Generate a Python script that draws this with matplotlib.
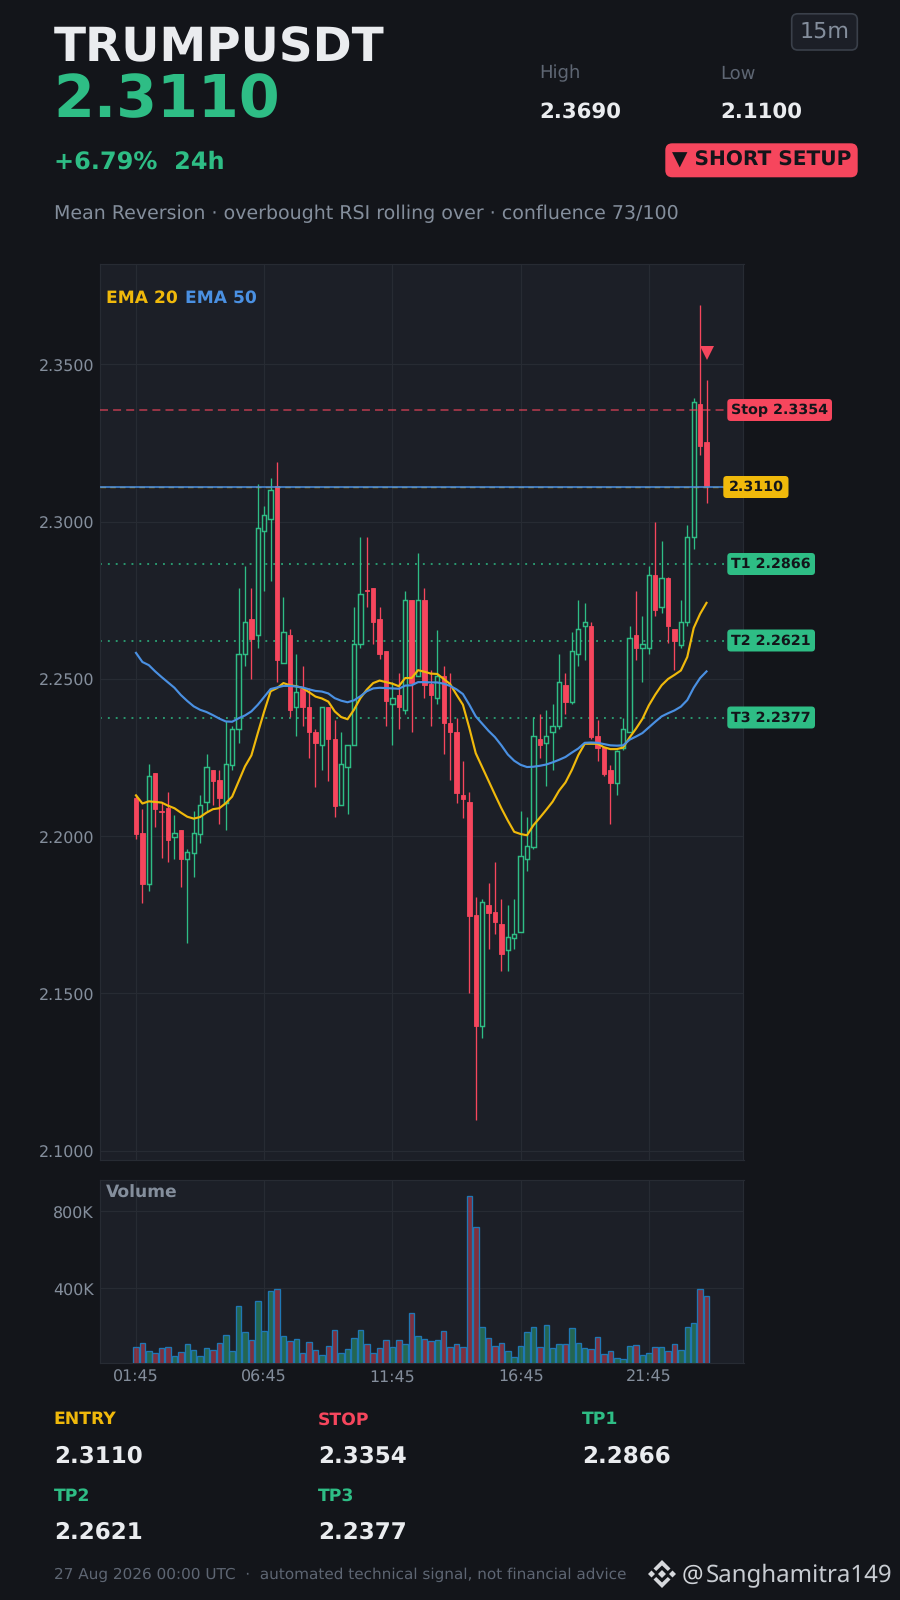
import matplotlib
matplotlib.use("Agg")
import matplotlib.pyplot as plt
from matplotlib.patches import FancyBboxPatch, Polygon
from matplotlib.transforms import ScaledTranslation

opens = [2.2121,2.2011,2.1849,2.2202,2.2081,2.2089,2.1999,2.2020,2.1929,2.1948,
         2.2008,2.2108,2.2210,2.2178,2.2107,2.2228,2.2341,2.2580,2.2691,2.2639,
         2.2970,2.3010,2.3113,2.2551,2.2640,2.2411,2.2468,2.2411,2.2331,2.2289,
         2.2411,2.2309,2.2098,2.2220,2.2289,2.2610,2.2783,2.2790,2.2691,2.2589,
         2.2420,2.2449,2.2400,2.2752,2.2510,2.2752,2.2485,2.2438,2.2510,2.2360,
         2.2331,2.2132,2.2108,2.1749,2.1397,2.1781,2.1758,2.1721,2.1639,2.1677,
         2.1696,2.1929,2.1967,2.2310,2.2298,2.2330,2.2349,2.2482,2.2428,2.2579,
         2.2668,2.2670,2.2318,2.2283,2.2211,2.2169,2.2280,2.2330,2.2640,2.2598,
         2.2598,2.2831,2.2728,2.2821,2.2660,2.2609,2.2680,2.2952,2.3373,2.3252]
closes = [2.2007,2.1848,2.2191,2.2087,2.2078,2.1988,2.2010,2.1928,2.1949,2.2010,
          2.2099,2.2220,2.2176,2.2120,2.2229,2.2341,2.2580,2.2682,2.2628,2.2981,
          2.3022,2.3102,2.2559,2.2650,2.2400,2.2459,2.2410,2.2330,2.2298,2.2411,
          2.2309,2.2097,2.2230,2.2290,2.2611,2.2771,2.2780,2.2680,2.2579,2.2429,
          2.2439,2.2410,2.2752,2.2487,2.2752,2.2480,2.2448,2.2508,2.2359,2.2330,
          2.2139,2.2119,2.1747,2.1397,2.1790,2.1757,2.1727,2.1625,2.1678,2.1688,
          2.1938,2.1968,2.2318,2.2289,2.2318,2.2350,2.2490,2.2428,2.2589,2.2659,
          2.2681,2.2317,2.2279,2.2198,2.2168,2.2271,2.2341,2.2630,2.2599,2.2611,
          2.2831,2.2719,2.2821,2.2668,2.2620,2.2681,2.2952,2.3382,2.3241,2.3114]
highs = [2.2131,2.2087,2.2229,2.2202,2.2105,2.2140,2.2069,2.2020,2.1959,2.2079,
         2.2130,2.2261,2.2210,2.2209,2.2365,2.2350,2.2788,2.2859,2.2788,2.3121,
         2.3050,2.3140,2.3190,2.2760,2.2659,2.2579,2.2540,2.2472,2.2341,2.2411,
         2.2411,2.2370,2.2330,2.2290,2.2728,2.2951,2.2951,2.2790,2.2729,2.2589,
         2.2489,2.2519,2.2779,2.2752,2.2901,2.2790,2.2527,2.2657,2.2540,2.2519,
         2.2376,2.2238,2.2140,2.1808,2.1800,2.1850,2.1919,2.1800,2.1780,2.1800,
         2.2079,2.2060,2.2378,2.2388,2.2400,2.2419,2.2578,2.2519,2.2648,2.2750,
         2.2742,2.2680,2.2368,2.2283,2.2228,2.2275,2.2377,2.2668,2.2779,2.2699,
         2.2859,2.3000,2.2938,2.2823,2.2660,2.2750,2.2989,2.3392,2.3690,2.3451]
lows = [2.1990,2.1789,2.1827,2.2028,2.1930,2.1919,2.1929,2.1837,2.1659,2.1869,
        2.1978,2.2079,2.2099,2.2038,2.2020,2.2209,2.2298,2.2542,2.2500,2.2599,
        2.2781,2.2813,2.2490,2.2551,2.2379,2.2320,2.2351,2.2248,2.2158,2.2211,
        2.2177,2.2061,2.2098,2.2070,2.2289,2.2599,2.2729,2.2612,2.2562,2.2349,
        2.2290,2.2341,2.2390,2.2332,2.2508,2.2440,2.2349,2.2421,2.2262,2.2179,
        2.2107,2.2059,2.1500,2.1099,2.1357,2.1640,2.1688,2.1570,2.1570,2.1640,
        2.1696,2.1889,2.1959,2.2248,2.2159,2.2209,2.2341,2.2388,2.2419,2.2542,
        2.2561,2.2309,2.2239,2.2190,2.2038,2.2132,2.2275,2.2330,2.2559,2.2490,
        2.2580,2.2699,2.2710,2.2613,2.2530,2.2599,2.2670,2.2912,2.3211,2.3061]
ema20 = [2.2130,2.2104,2.2111,2.2109,2.2107,2.2097,2.2089,2.2075,2.2062,2.2056,
         2.2061,2.2075,2.2086,2.2089,2.2105,2.2126,2.2174,2.2222,2.2257,2.2328,
         2.2397,2.2461,2.2471,2.2487,2.2480,2.2477,2.2471,2.2458,2.2444,2.2438,
         2.2428,2.2397,2.2379,2.2372,2.2402,2.2439,2.2466,2.2487,2.2495,2.2490,
         2.2485,2.2477,2.2503,2.2503,2.2528,2.2523,2.2517,2.2516,2.2500,2.2484,
         2.2450,2.2418,2.2344,2.2264,2.2220,2.2176,2.2132,2.2089,2.2050,2.2014,
         2.2007,2.2003,2.2035,2.2059,2.2084,2.2110,2.2145,2.2171,2.2211,2.2258,
         2.2294,2.2294,2.2294,2.2283,2.2277,2.2277,2.2282,2.2314,2.2342,2.2373,
         2.2416,2.2450,2.2480,2.2500,2.2513,2.2527,2.2570,2.2662,2.2707,2.2742]
ema50 = [2.2583,2.2554,2.2544,2.2524,2.2506,2.2489,2.2472,2.2449,2.2430,2.2413,
         2.2402,2.2395,2.2385,2.2374,2.2365,2.2364,2.2375,2.2384,2.2397,2.2418,
         2.2443,2.2468,2.2473,2.2478,2.2478,2.2476,2.2473,2.2467,2.2462,2.2460,
         2.2454,2.2439,2.2431,2.2426,2.2432,2.2445,2.2461,2.2470,2.2472,2.2471,
         2.2470,2.2469,2.2479,2.2480,2.2490,2.2490,2.2489,2.2489,2.2485,2.2478,
         2.2467,2.2452,2.2418,2.2381,2.2358,2.2335,2.2315,2.2289,2.2260,2.2240,
         2.2227,2.2220,2.2221,2.2224,2.2228,2.2235,2.2243,2.2252,2.2266,2.2279,
         2.2297,2.2298,2.2297,2.2293,2.2289,2.2288,2.2289,2.2307,2.2317,2.2328,
         2.2346,2.2364,2.2381,2.2391,2.2400,2.2412,2.2433,2.2472,2.2503,2.2524]
volumes = [93,118,73,66,88,93,47,67,109,78,47,88,78,114,156,73,306,171,130,332,
           176,384,395,151,125,135,62,119,78,52,99,182,62,83,140,182,109,62,88,130,
           93,130,109,270,151,135,125,130,176,93,109,93,878,717,197,140,99,114,73,41,
           99,171,197,93,208,88,109,109,192,114,88,83,145,57,73,36,31,99,104,52,
           62,93,93,73,109,78,197,218,395,358]
price_ticks = [2.10,2.15,2.20,2.25,2.30,2.35]
vol_ticks = [400, 800]
time_labels = ["01:45","06:45","11:45","16:45","21:45"]
time_idx = [0,20,40,60,80]
entry, stop, tp1, tp2, tp3 = 2.3110, 2.3354, 2.2866, 2.2621, 2.2377
signal_idx, signal_price = 89, 2.3538

BG = "#13151a"; PANEL = "#1c1f27"; GRID = "#272b33"
GREEN = "#2ebd85"; RED = "#f6465d"; YEL = "#f0b90b"; BLUE = "#4a90e2"
WHITE = "#eaecef"; GREY = "#848e9c"; DIM = "#5e6673"

plt.rcParams["font.family"] = ["DejaVu Sans"]
plt.rcParams["text.hinting"] = "no_hinting"
fig = plt.figure(figsize=(9, 16), dpi=100, facecolor=BG)
W, H = 900.0, 1600.0

def px_axes(l, t, r, b):
    return fig.add_axes([l/W, 1-b/H, (r-l)/W, (b-t)/H], facecolor=PANEL)

ax = px_axes(100.2, 264, 743.5, 1160)
av = px_axes(100.2, 1180, 743.5, 1363)
xs = list(range(len(opens)))
XL = (-5.585, 94.77)

for a in (ax, av):
    a.set_xlim(*XL)
    a.set_xticks(time_idx)
    a.grid(True, color=GRID, lw=0.85, zorder=0)
    a.set_axisbelow(True)
    a.tick_params(length=0, colors=GREY, labelsize=11.4)
    for s in a.spines.values():
        s.set_color(GRID); s.set_linewidth(0.85)

# price pane
ax.set_ylim(2.09705, 2.38195)
ax.set_yticks(price_ticks)
ax.set_yticklabels([f"{v:.4f}" for v in price_ticks])
ax.set_xticklabels([])
ax.tick_params(axis="y", pad=4.5)

for i in xs:
    up = closes[i] >= opens[i]
    col = GREEN if up else RED
    ax.vlines(i, lows[i], highs[i], color=col, lw=0.95, zorder=2.5)
    lo, hi = min(opens[i], closes[i]), max(opens[i], closes[i])
    ax.bar(i, hi-lo, 0.68, bottom=lo, facecolor=PANEL if up else RED,
           edgecolor=col, linewidth=1.05 if up else 0.6, zorder=3)

ax.axhline(entry, color=YEL, lw=1.0, ls=(0, (4, 3)), alpha=0.7, zorder=3.2)
ax.axhline(entry, color=BLUE, lw=1.4, alpha=0.8, zorder=3.3)
ax.axhline(stop, color=RED, lw=1.15, ls=(0, (5, 3.2)), alpha=0.7, zorder=3.2)
for tp in (tp1, tp2, tp3):
    ax.axhline(tp, color=GREEN, lw=1.35, ls=(0, (1, 3.2)), alpha=0.8, zorder=1.5)

ax.plot(xs, ema20, color=YEL, lw=1.55, zorder=4)
ax.plot(xs, ema50, color=BLUE, lw=1.55, zorder=4.1)
ax.plot([signal_idx], [signal_price], marker="v", ms=10.5, color=RED, mew=0, zorder=5)

# volume pane
av.set_ylim(12, 962)
av.set_yticks(vol_ticks)
av.set_yticklabels([f"{v}K" for v in vol_ticks])
av.set_xticklabels(time_labels)
av.tick_params(axis="x", pad=4.5)
av.tick_params(axis="y", pad=4.5)
for i in xs:
    up = closes[i] >= opens[i]
    face = (0x2e/255, 0xbd/255, 0x85/255, 0.45) if up else (0xf6/255, 0x46/255, 0x5d/255, 0.45)
    av.bar(i, volumes[i], 0.86, facecolor=face, edgecolor="#1f77b4", linewidth=0.95, zorder=3)

# nudge the y tick labels one pixel down
nudge = ScaledTranslation(0, -1/100, fig.dpi_scale_trans)
for a in (ax, av):
    for lbl in a.get_yticklabels():
        lbl.set_transform(lbl.get_transform() + nudge)

# overlay in pixel coordinates
ov = fig.add_axes([0, 0, 1, 1], facecolor="none", zorder=10)
ov.set_xlim(0, W); ov.set_ylim(H, 0); ov.axis("off")

def T(x, y, s, size, color, weight="normal", ha="left", va="baseline", family=None):
    kw = {"family": family} if family else {}
    return ov.text(x, y, s, fontsize=size, color=color, fontweight=weight, ha=ha, va=va, **kw)

def box(l, t, r, b, fc, ec="none", lw=0, rad=4):
    ov.add_patch(FancyBboxPatch((l+rad, t+rad), r-l-2*rad, b-t-2*rad,
                 boxstyle=f"round,pad={rad},rounding_size={rad}", fc=fc, ec=ec, lw=lw))

T(54, 61, "TRUMPUSDT", 33.8, WHITE, "bold")
T(53.5, 117, "2.3110", 42.3, GREEN, "bold")
T(54, 169, "+6.79%  24h", 17.3, GREEN, "bold")
T(539.5, 78.5, "High", 13, DIM)
T(720, 78.5, "Low", 13, DIM)
T(539.5, 118, "2.3690", 15.3, WHITE, "bold")
T(720, 118, "2.1100", 15.3, WHITE, "bold")
T(54, 219, "Mean Reversion · overbought RSI rolling over · confluence 73/100", 13.65, GREY)

box(791.7, 13.8, 857.3, 50, PANEL, "#3a404a", 1.2, 6)
T(824.5, 32, "15m", 16, GREY, ha="center", va="center")
box(665.3, 143.3, 857.7, 177.3, RED, rad=7)
T(761.5, 160.5, "▼ SHORT SETUP", 14.5, BG, "bold", ha="center", va="center")

T(106, 303, "EMA 20", 12.3, YEL, "bold")
T(184.7, 303, "EMA 50", 12.3, BLUE, "bold")
T(106, 1198, "Volume", 12.3, GREY, "bold")

def label(l, r, yc, s, fc):
    box(l, yc-11, r, yc+11, fc, rad=3.5)
    T((l+r)/2, yc, s, 10.3, BG, "bold", ha="center", va="center")

label(727.3, 832, 410, "Stop 2.3354", RED)
label(723.3, 788.5, 487, "2.3110", YEL)
label(727.3, 815, 564, "T1 2.2866", GREEN)
label(727.3, 815, 640.5, "T2 2.2621", GREEN)
label(727.3, 815, 717.5, "T3 2.2377", GREEN)

cols = [53.7, 317.7, 581.7]
stats = [("ENTRY", "2.3110", YEL, 0, 0), ("STOP", "2.3354", RED, 1, 0), ("TP1", "2.2866", GREEN, 2, 0),
         ("TP2", "2.2621", GREEN, 0, 1), ("TP3", "2.2377", GREEN, 1, 1)]
for name, val, c, cx, row in stats:
    T(cols[cx], 1424.5 + row*76.5, name, 12.4, c, "bold")
    T(cols[cx], 1462.5 + row*76.5, val, 16.6, WHITE, "bold")

T(54, 1579, "27 Aug 2026 00:00 UTC  ·  automated technical signal, not financial advice", 11, DIM)
T(682, 1582, "@", 17.3, "#d0d3d8", family="Noto Sans")
T(706, 1582, "Sanghamitra149", 17.3, "#c8ccd2", family="Noto Sans")

ICON = "#d6d8dc"
cx, cy = 662, 1574
for pts in [
    [(0,-14),(8.5,-5.5),(5.8,-3),(0,-8.5),(-5.8,-3),(-8.5,-5.5)],
    [(0,14),(8.5,5.5),(5.8,3),(0,8.5),(-5.8,3),(-8.5,5.5)],
    [(0,-4),(4,0),(0,4),(-4,0)],
    [(-14,0),(-10.5,-3.5),(-7,0),(-10.5,3.5)],
    [(14,0),(10.5,-3.5),(7,0),(10.5,3.5)],
]:
    ov.add_patch(Polygon([(cx+a, cy+b) for a, b in pts], closed=True, fc=ICON, ec="none"))

fig.savefig("out.png", dpi=100, facecolor=BG)
